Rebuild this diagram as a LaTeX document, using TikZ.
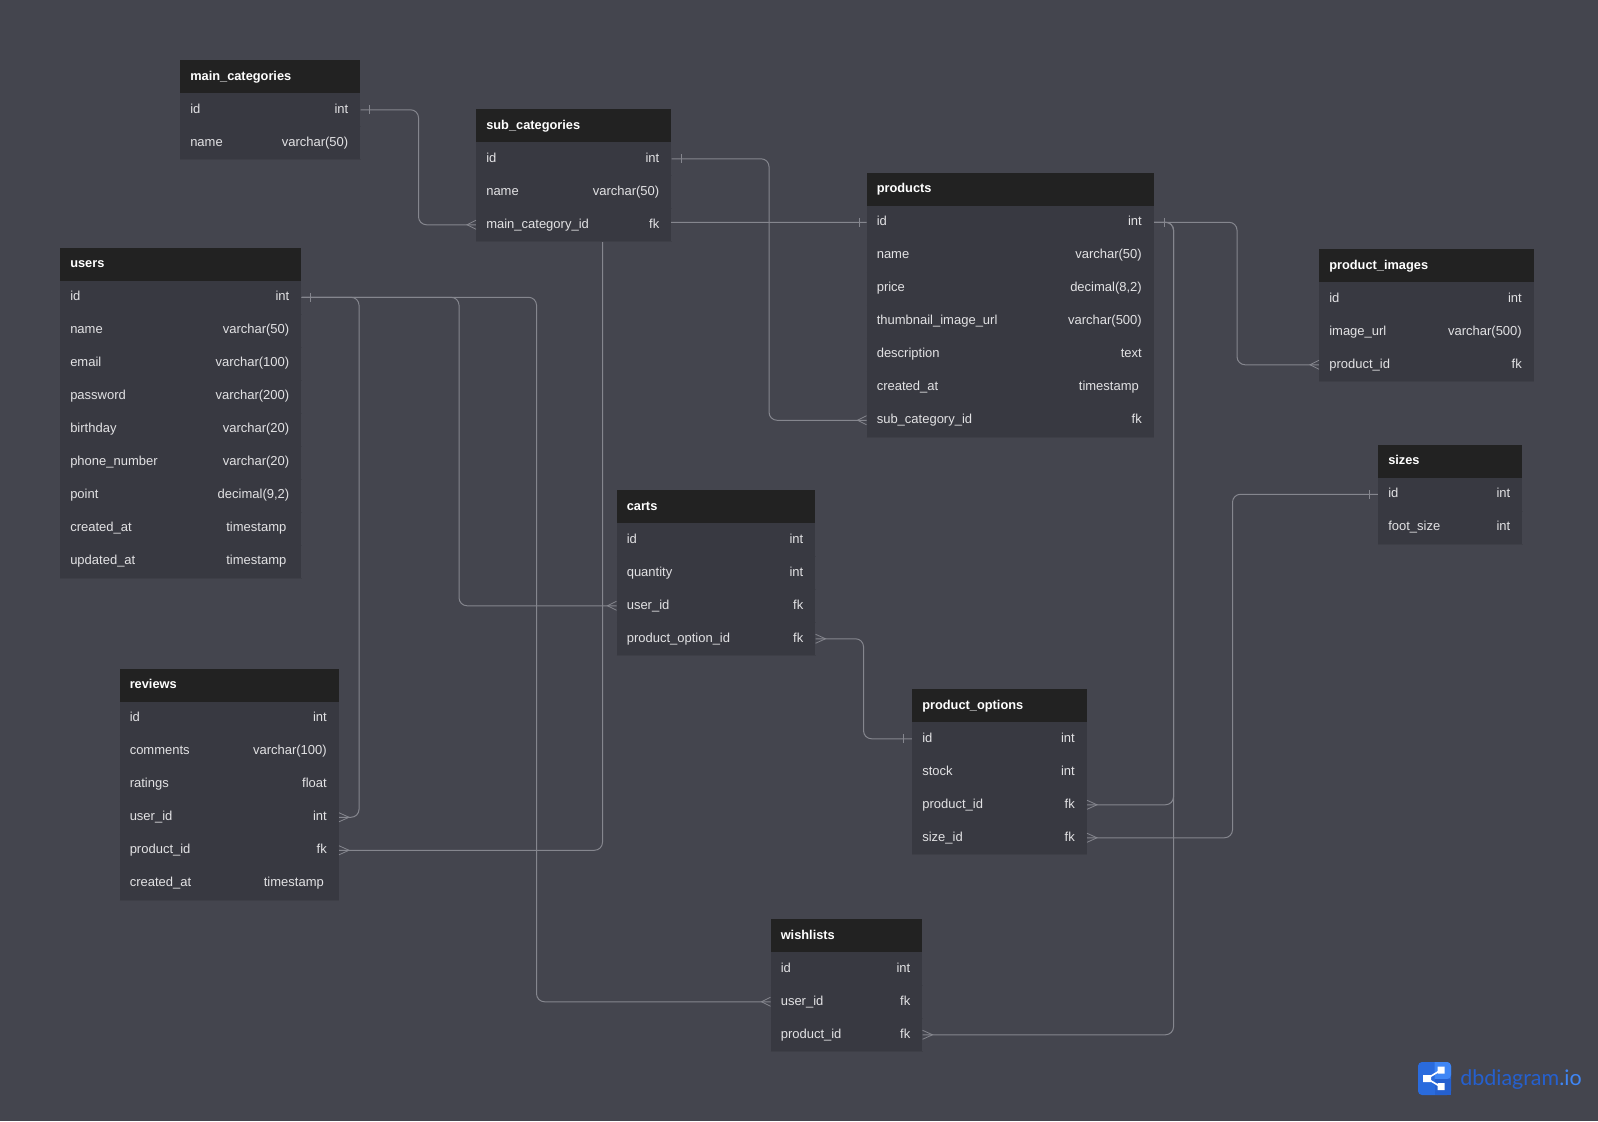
\documentclass[tikz,border=0pt]{standalone}
\usepackage{fontspec}
\setmainfont{Liberation Sans}
\newfontfamily\logofont{Lato}
\usetikzlibrary{backgrounds}
\definecolor{pagebg}{HTML}{44454E}
\definecolor{headbg}{HTML}{222222}
\definecolor{rowbg}{HTML}{383941}
\definecolor{rowsep}{HTML}{3E3F47}
\definecolor{rowtext}{HTML}{E2E2E4}
\definecolor{relcol}{HTML}{85868E}
\definecolor{logoblue}{HTML}{2A6BDD}
\definecolor{logolight}{HTML}{3F86F5}
\definecolor{logodark}{HTML}{2560CF}
\tikzset{
  headbox/.style={fill=headbg,text=white,font=\bfseries\fontsize{9.6}{11}\selectfont,
    anchor=north west,align=left,text width=#1*.75pt-15pt,minimum width=#1*.75pt,
    minimum height=24.75pt,inner xsep=7.5pt,inner ysep=0pt,text height=7.5pt,text depth=2.3pt},
  rowbox/.style={fill=rowbg,text=rowtext,font=\fontsize{9.75}{11}\selectfont,
    anchor=north west,align=left,text width=#1*.75pt-15pt,minimum width=#1*.75pt,
    minimum height=24.75pt,inner xsep=7.5pt,inner ysep=0pt,text height=7.5pt,text depth=2.3pt},
  typebox/.style={text=rowtext,font=\fontsize{9.75}{11}\selectfont,anchor=east,
    inner xsep=9pt,inner ysep=0pt,text height=7.5pt,text depth=2.3pt},
  relline/.style={draw=relcol,line width=.75pt,rounded corners=6pt},
  markline/.style={draw=relcol,line width=.6pt}
}
\newcommand{\dbtable}[6]{%
  \node[headbox=#4] (#1) at (#2,#3) {#5};
  \foreach \fname/\ftype [count=\i] in {#6} {
    \node[rowbox=#4] (#1-\i) at (#2,#3+33*\i) {\fname};
    \node[typebox] (#1-\i-t) at (#1-\i.east) {\ftype};
    \draw[rowsep,line width=.5pt] (#1-\i.south west) -- (#1-\i.south east);
  }
}
\newcommand{\tickmark}[2]{\draw[markline] (#1) ++(#2,-4.5) -- ++(0,9);}
\newcommand{\crowfoot}[2]{\draw[markline] (#1) ++(0,-4.5) -- ++(#2,4.5) -- ++(-#2,4.5);}
\newcommand{\tstamp}{timestamp\rule{2.2pt}{0pt}}

\begin{document}
\begin{tikzpicture}[x=.75pt,y=-.75pt]
  \useasboundingbox (0,0) rectangle (1598,1121);
  \dbtable{maincat}{180}{60}{180}{main\_categories}{id/int,name/varchar(50)}
  \dbtable{subcat}{476}{109}{195}{sub\_categories}{id/int,name/varchar(50),main\_category\_id/fk}
  \dbtable{products}{866.5}{172.5}{287}{products}{id/int,name/varchar(50),price/{decimal(8,2)},
    thumbnail\_image\_url/varchar(500),description/text,created\_at/\tstamp,sub\_category\_id/fk}
  \dbtable{images}{1319}{249}{214.5}{product\_images}{id/int,image\_url/varchar(500),product\_id/fk}
  \dbtable{sizes}{1378}{444.5}{144}{sizes}{id/int,foot\_size/int}
  \dbtable{users}{60}{247.5}{241}{users}{id/int,name/varchar(50),email/varchar(100),
    password/varchar(200),birthday/varchar(20),phone\_number/varchar(20),point/{decimal(9,2)},
    created\_at/\tstamp,updated\_at/\tstamp}
  \dbtable{carts}{616.5}{490}{198.5}{carts}{id/int,quantity/int,user\_id/fk,product\_option\_id/fk}
  \dbtable{reviews}{119.5}{668.5}{219}{reviews}{id/int,comments/varchar(100),ratings/float,
    user\_id/int,product\_id/fk,created\_at/\tstamp}
  \dbtable{options}{912}{689}{174.5}{product\_options}{id/int,stock/int,product\_id/fk,size\_id/fk}
  \dbtable{wishlists}{770.5}{919}{151.5}{wishlists}{id/int,user\_id/fk,product\_id/fk}
  %
  \begin{scope}[on background layer]
    \fill[pagebg] (0,0) rectangle (1598,1121);
    \draw[relline] (maincat-1.east) -- ++(58,0) |- (subcat-3.west);
    \draw[relline] (subcat-1.east) -- ++(97.5,0) |- (products-7.west);
    \draw[relline] (products-1.west) -- ++(-264,0) |- (reviews-5.east);
    \draw[relline] (products-1.east) -- ++(83,0) |- (images-3.west);
    \draw[relline] (products-1.east) -- ++(19.5,0) |- (options-3.east);
    \draw[relline] (products-1.east) -- ++(19.5,0) |- (wishlists-3.east);
    \draw[relline] (sizes-1.west) -- ++(-145.5,0) |- (options-4.east);
    \draw[relline] (users-1.east) -- ++(57.5,0) |- (reviews-4.east);
    \draw[relline] (users-1.east) -- ++(157.5,0) |- (carts-3.west);
    \draw[relline] (users-1.east) -- ++(235,0) |- (wishlists-2.west);
    \draw[relline] (carts-4.east) -- ++(48,0) |- (options-1.west);
  \end{scope}
  %
  \tickmark{maincat-1.east}{9}
  \tickmark{subcat-1.east}{10}
  \tickmark{products-1.west}{-7}
  \tickmark{products-1.east}{10}
  \tickmark{users-1.east}{9}
  \tickmark{sizes-1.west}{-9}
  \tickmark{options-1.west}{-9}
  \crowfoot{subcat-3.west}{-9}
  \crowfoot{products-7.west}{-9}
  \crowfoot{images-3.west}{-9}
  \crowfoot{carts-3.west}{-9}
  \crowfoot{wishlists-2.west}{-9}
  \crowfoot{carts-4.east}{10}
  \crowfoot{reviews-4.east}{10}
  \crowfoot{reviews-5.east}{10}
  \crowfoot{options-3.east}{10}
  \crowfoot{options-4.east}{10}
  \crowfoot{wishlists-3.east}{10}
  %
  \fill[logoblue,rounded corners=3pt] (1418,1062) rectangle (1451,1095);
  \fill[logolight] (1434.5,1062) [rounded corners=3pt] -| (1451,1079) [sharp corners] -| cycle;
  \fill[logodark] (1434.5,1079) -| (1451,1095) [sharp corners] -| cycle;
  \draw[white,line width=1.2pt] (1441,1070) -- (1427,1078.5) -- (1441,1087);
  \fill[white] (1423,1075) rectangle ++(8,7) (1437.5,1066.5) rectangle ++(7,7) (1437.5,1083) rectangle ++(7,7);
  \node[anchor=west,inner sep=0pt,font=\logofont\fontsize{16.1}{18}\selectfont,text=logodark] (logotext) at (1460,1079.5)
    {dbdiagram\textcolor{logolight}{.io}};
\end{tikzpicture}
\end{document}
